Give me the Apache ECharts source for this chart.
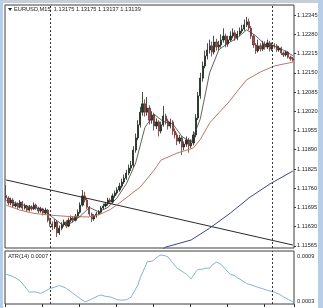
<!DOCTYPE html>
<html><head><meta charset="utf-8">
<script src="https://cdn.jsdelivr.net/npm/echarts@6/dist/echarts.min.js"></script>
<style>html,body{margin:0;padding:0;background:#fff}#c{width:323px;height:308px}</style>
</head><body><div id="c"></div>
<script>
const opens = [
1.11735,1.11727,1.11710,1.11720,1.11700,1.11707,1.11696,1.11713,1.11693,1.11700,
1.11686,1.11696,1.11690,1.11703,1.11693,1.11683,1.11690,1.11676,1.11686,1.11652,
1.11639,1.11629,1.11646,1.11609,1.11625,1.11636,1.11646,1.11632,1.11652,1.11659,
1.11652,1.11666,1.11679,1.11703,1.11734,1.11720,1.11696,1.11673,1.11656,1.11666,
1.11673,1.11679,1.11693,1.11700,1.11707,1.11720,1.11713,1.11734,1.11744,1.11754,
1.11767,1.11781,1.11794,1.11811,1.11828,1.11838,1.11889,1.11930,1.11974,1.12017,
1.12045,1.12017,1.12031,1.11990,1.12007,1.11970,1.11984,1.11953,1.11974,1.12004,
1.11987,1.11970,1.11984,1.11953,1.11940,1.11919,1.11930,1.11899,1.11909,1.11923,
1.11903,1.11913,1.11940,1.11997,1.12072,1.12132,1.12173,1.12207,1.12227,1.12241,
1.12220,1.12254,1.12237,1.12244,1.12261,1.12274,1.12247,1.12261,1.12274,1.12285,
1.12268,1.12281,1.12291,1.12298,1.12312,1.12322,1.12301,1.12274,1.12244,1.12224,
1.12241,1.12230,1.12247,1.12237,1.12251,1.12230,1.12244,1.12241,1.12227,1.12234,
1.12217,1.12210,1.12220,1.12203,1.12197];
const closes = [
1.11727,1.11710,1.11720,1.11700,1.11707,1.11696,1.11713,1.11693,1.11700,1.11686,
1.11696,1.11690,1.11703,1.11693,1.11683,1.11690,1.11676,1.11686,1.11652,1.11639,
1.11629,1.11646,1.11609,1.11625,1.11636,1.11646,1.11632,1.11652,1.11659,1.11652,
1.11666,1.11679,1.11703,1.11734,1.11720,1.11696,1.11673,1.11656,1.11666,1.11673,
1.11679,1.11693,1.11700,1.11707,1.11720,1.11713,1.11734,1.11744,1.11754,1.11767,
1.11781,1.11794,1.11811,1.11828,1.11838,1.11889,1.11930,1.11974,1.12017,1.12045,
1.12017,1.12031,1.11990,1.12007,1.11970,1.11984,1.11953,1.11974,1.12004,1.11987,
1.11970,1.11984,1.11953,1.11940,1.11919,1.11930,1.11899,1.11909,1.11923,1.11903,
1.11913,1.11940,1.11997,1.12072,1.12132,1.12173,1.12207,1.12227,1.12241,1.12220,
1.12254,1.12237,1.12244,1.12261,1.12274,1.12247,1.12261,1.12274,1.12285,1.12268,
1.12281,1.12291,1.12298,1.12312,1.12322,1.12301,1.12274,1.12244,1.12224,1.12241,
1.12230,1.12247,1.12237,1.12251,1.12230,1.12244,1.12241,1.12227,1.12234,1.12217,
1.12210,1.12220,1.12203,1.12197,1.12193];
const highs = [
1.11771,1.11733,1.11728,1.11726,1.11715,1.11712,1.11720,1.11717,1.11708,1.11704,
1.11703,1.11702,1.11712,1.11708,1.11698,1.11697,1.11694,1.11694,1.11690,1.11660,
1.11648,1.11655,1.11652,1.11634,1.11645,1.11654,1.11652,1.11660,1.11668,1.11665,
1.11673,1.11688,1.11712,1.11754,1.11748,1.11726,1.11700,1.11678,1.11672,1.11680,
1.11686,1.11700,1.11708,1.11714,1.11728,1.11726,1.11742,1.11752,1.11763,1.11778,
1.11792,1.11806,1.11822,1.11840,1.11852,1.11902,1.11945,1.11990,1.12035,1.12085,
1.12060,1.12068,1.12040,1.12020,1.12015,1.11996,1.11990,1.11985,1.12038,1.12012,
1.11995,1.11995,1.11990,1.11962,1.11948,1.11940,1.11936,1.11918,1.11935,1.11930,
1.11925,1.11952,1.12010,1.12085,1.12150,1.12188,1.12225,1.12250,1.12262,1.12255,
1.12275,1.12265,1.12258,1.12280,1.12300,1.12282,1.12275,1.12290,1.12300,1.12294,
1.12292,1.12303,1.12312,1.12330,1.12339,1.12333,1.12308,1.12280,1.12250,1.12262,
1.12250,1.12258,1.12256,1.12262,1.12258,1.12252,1.12250,1.12247,1.12241,1.12238,
1.12222,1.12226,1.12224,1.12208,1.12203];
const lows = [
1.11718,1.11703,1.11702,1.11694,1.11695,1.11688,1.11692,1.11686,1.11688,1.11679,
1.11681,1.11684,1.11686,1.11687,1.11676,1.11677,1.11668,1.11671,1.11645,1.11630,
1.11618,1.11622,1.11595,1.11602,1.11618,1.11630,1.11625,1.11628,1.11645,1.11644,
1.11648,1.11660,1.11674,1.11698,1.11712,1.11690,1.11665,1.11646,1.11650,1.11660,
1.11668,1.11674,1.11688,1.11695,1.11701,1.11706,1.11708,1.11728,1.11738,1.11748,
1.11760,1.11774,1.11788,1.11804,1.11818,1.11830,1.11880,1.11922,1.11965,1.12005,
1.12002,1.12005,1.11975,1.11978,1.11955,1.11960,1.11935,1.11945,1.11968,1.11975,
1.11958,1.11962,1.11940,1.11928,1.11905,1.11910,1.11872,1.11888,1.11900,1.11880,
1.11895,1.11905,1.11932,1.11990,1.12062,1.12120,1.12165,1.12195,1.12215,1.12205,
1.12212,1.12225,1.12226,1.12235,1.12252,1.12236,1.12238,1.12255,1.12266,1.12258,
1.12260,1.12274,1.12284,1.12292,1.12304,1.12294,1.12265,1.12234,1.12214,1.12218,
1.12222,1.12224,1.12228,1.12230,1.12222,1.12224,1.12232,1.12220,1.12221,1.12210,
1.12203,1.12205,1.12198,1.12191,1.12188];

// Indicator lines: [bar index, value]
const fastMA = [[0,1.11718],[4,1.11710],[8,1.11702],[12,1.11695],[16,1.11688],[20,1.11662],[24,1.11638],[28,1.11642],[32,1.11665],[36,1.11695],[40,1.11680],[44,1.11695],[48,1.11728],[52,1.11775],[56,1.11845],[60,1.11965],[64,1.12010],[68,1.11985],[72,1.11978],[76,1.11935],[80,1.11915],[84,1.11995],[88,1.12150],[92,1.12228],[96,1.12250],[100,1.12268],[104,1.12295],[108,1.12275],[112,1.12245],[116,1.12240],[120,1.12226],[124,1.12208]];
const slowMA = [[0,1.11703],[6,1.11686],[12,1.11675],[19,1.11669],[28,1.11664],[36,1.11663],[41,1.11673],[45,1.11688],[49,1.11710],[54,1.11740],[58,1.11764],[64,1.11821],[67,1.11855],[74,1.11879],[81,1.11896],[84,1.11925],[88,1.11980],[92,1.12015],[96,1.12048],[100,1.12088],[104,1.12126],[110,1.12153],[116,1.12173],[124,1.12186]];
const longMA = [[55,1.11505],[62,1.11524],[69,1.11561],[80,1.11585],[88,1.11625],[97,1.11676],[105,1.11727],[114,1.11774],[124,1.11818]];
const trendLine = [[0,1.11788],[124,1.11568]];
const atrPoints = [[0,0.00066],[3,0.00063],[6,0.000575],[8,0.00050],[10,0.000425],[12,0.00043],[13,0.000425],[15,0.00041],[17,0.00044],[19,0.000475],[21,0.00049],[23,0.000513],[25,0.00049],[26,0.000475],[28,0.00043],[31,0.000363],[33,0.00032],[34,0.0003],[36,0.00032],[38,0.00035],[40,0.00038],[41,0.000388],[43,0.00037],[45,0.000363],[47,0.00034],[48,0.000325],[50,0.00032],[52,0.000325],[54,0.00036],[55,0.000412],[57,0.00052],[58,0.000613],[60,0.00075],[61,0.000825],[63,0.00083],[64,0.00085],[66,0.0009],[67,0.000913],[69,0.0009],[70,0.000888],[72,0.00081],[74,0.000738],[76,0.0007],[78,0.00066],[80,0.0006],[82,0.00069],[83,0.000725],[85,0.000725],[86,0.00074],[88,0.000738],[89,0.00078],[90,0.0008],[91,0.00082],[93,0.000788],[95,0.00072],[97,0.00066],[99,0.00064],[100,0.000613],[102,0.00058],[104,0.000538],[106,0.00052],[109,0.000488],[111,0.00047],[113,0.00045],[116,0.000425],[118,0.0004],[120,0.000363],[122,0.00033],[124,0.0003]];
const priceTicks = [1.11565,1.11630,1.11695,1.11760,1.11825,1.11890,1.11955,1.12020,1.12085,1.12150,1.12215,1.12280,1.12345];
const atrTicks = [0.0003,0.0009];
const separators = ['19','115'];
const headerText = 'EURUSD,M15  1.13175 1.13175 1.13137 1.13139';
const atrText = 'ATR(14) 0.0007';

const cats = closes.map((_, i) => String(i));
const FONT = '"Liberation Sans", Arial, sans-serif';
const chart = echarts.init(document.getElementById('c'));
const sepLine = {
  silent: true, symbol: 'none', animation: false,
  label: {show: false},
  lineStyle: {type: [2, 2], color: '#333', width: 1},
  data: separators.map(s => ({xAxis: s}))
};
chart.setOption({
  animation: false,
  backgroundColor: '#fff',
  grid: [
    {left: 5, top: 5, width: 289, height: 243, show: true, borderColor: '#3c3c3c', borderWidth: 1, backgroundColor: '#fff'},
    {left: 5, top: 251, width: 289, height: 53, show: true, borderColor: '#3c3c3c', borderWidth: 1, backgroundColor: '#fff'}
  ],
  xAxis: [
    {gridIndex: 0, type: 'category', data: cats, axisLine: {show: false}, axisTick: {show: false}, axisLabel: {show: false}, splitLine: {show: false}},
    {gridIndex: 1, type: 'category', data: cats, axisLine: {show: false}, axisTick: {show: true, interval: 15, length: 3, lineStyle: {color: '#333'}}, axisLabel: {show: false}, splitLine: {show: false}}
  ],
  yAxis: [
    {gridIndex: 0, type: 'value', position: 'right', min: 1.11558, max: 1.12379, scale: true,
     axisLine: {show: false}, splitLine: {show: false},
     axisTick: {show: true, length: 2, customValues: priceTicks, lineStyle: {color: '#333'}},
     axisLabel: {customValues: priceTicks, formatter: v => v.toFixed(5), fontSize: 5.7, color: '#222', margin: 3, fontFamily: FONT}},
    {gridIndex: 1, type: 'value', position: 'right', min: 0.00027, max: 0.000965,
     axisLine: {show: false}, splitLine: {show: false},
     axisTick: {show: false},
     axisLabel: {customValues: atrTicks, formatter: v => v.toFixed(4), fontSize: 5.7, color: '#222', margin: 3, fontFamily: FONT}}
  ],
  series: [
    {type: 'candlestick', xAxisIndex: 0, yAxisIndex: 0, barWidth: 1.7,
     data: closes.map((c, i) => [opens[i], c, lows[i], highs[i]]),
     itemStyle: {color: '#263826', color0: '#9b5050', borderColor: '#18241a', borderColor0: '#6e2e2e', borderWidth: 0.8},
     markLine: sepLine, z: 2},
    {type: 'line', xAxisIndex: 0, yAxisIndex: 0, data: trendLine, showSymbol: false, symbol: 'none', lineStyle: {color: '#2a2a2a', width: 1}, z: 3},
    {type: 'line', xAxisIndex: 0, yAxisIndex: 0, data: longMA, showSymbol: false, symbol: 'none', lineStyle: {color: '#3a4788', width: 1}, z: 3},
    {type: 'line', xAxisIndex: 0, yAxisIndex: 0, data: slowMA, showSymbol: false, symbol: 'none', lineStyle: {color: '#b87868', width: 1}, z: 3},
    {type: 'line', xAxisIndex: 0, yAxisIndex: 0, data: fastMA, showSymbol: false, symbol: 'none', lineStyle: {color: '#3a3a3a', width: 0.8}, z: 4},
    {type: 'line', xAxisIndex: 1, yAxisIndex: 1, data: atrPoints, showSymbol: false, symbol: 'none', lineStyle: {color: '#86b4d4', width: 1}, markLine: sepLine, z: 3}
  ],
  graphic: [
    {type: 'rect', shape: {x: 0, y: 0, width: 323, height: 3}, style: {fill: '#c9ced6'}, silent: true},
    {type: 'rect', shape: {x: 0, y: 0, width: 3, height: 308}, style: {fill: '#b7cde8'}, silent: true},
    {type: 'rect', shape: {x: 318, y: 0, width: 5, height: 308}, style: {fill: '#b7cde8'}, silent: true},
    {type: 'polygon', shape: {points: [[8, 8], [12, 8], [10, 11]]}, style: {fill: '#222'}, silent: true, z: 100},
    {type: 'text', x: 14, y: 6.5, style: {text: headerText, font: '5.7px ' + FONT, fill: '#222'}, silent: true, z: 100},
    {type: 'text', x: 8, y: 253, style: {text: atrText, font: '5.7px ' + FONT, fill: '#222'}, silent: true, z: 100}
  ]
});
</script></body></html>
